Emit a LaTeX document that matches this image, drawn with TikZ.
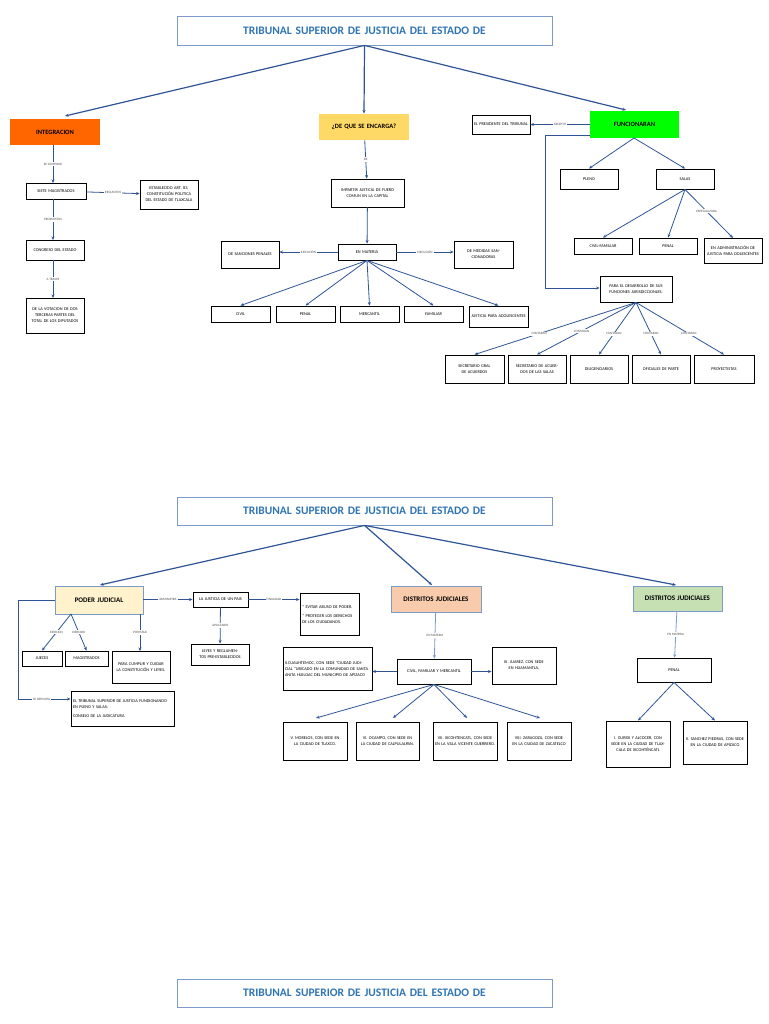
\documentclass[tikz,border=0pt]{standalone}
\usepackage{fontspec}
\setmainfont{Carlito}
\usetikzlibrary{arrows.meta}
\definecolor{ttl}{RGB}{47,117,181}
\definecolor{ln}{RGB}{46,84,150}
\definecolor{lbl}{RGB}{125,155,200}
\definecolor{org}{RGB}{255,102,0}
\definecolor{yel}{RGB}{255,217,102}
\definecolor{grn}{RGB}{0,255,0}
\definecolor{crm}{RGB}{255,242,204}
\definecolor{pch}{RGB}{248,203,173}
\definecolor{lgr}{RGB}{198,224,180}
\tikzset{
 base/.style={draw,line width=0.9pt,fill=white,align=center,inner sep=1pt,font=\fontsize{4.3}{6}\selectfont},
 hdr/.style={draw=none,font=\fontsize{6.5}{8}\selectfont\bfseries},
 hdr2/.style={draw=lbl,line width=0.8pt,font=\fontsize{7}{8}\selectfont\bfseries},
 title/.style={draw=lbl,line width=0.8pt,font=\fontsize{11.5}{13}\selectfont\bfseries,text=ttl},
 con/.style={draw=ln,line width=0.8pt,-{Stealth[length=3.5pt,width=3pt]}},
 lab/.style={fill=white,inner sep=1pt,font=\fontsize{3.3}{4}\selectfont,text=black!70},
}
\newcommand\bx[7]{\node[base,#6,minimum width={#4-#2},minimum height={#5-#3},text width={#4-#2-4}] (#1) at ({(#2+#4)/2},{(#3+#5)/2}) {#7};}
\begin{document}
\begin{tikzpicture}[x=1pt,y=-1pt]
\useasboundingbox (0,0) rectangle (768,1024);
% titles
\bx{t1}{177}{16}{552}{45}{title}{TRIBUNAL SUPERIOR DE JUSTICIA DEL ESTADO DE}
\bx{t2}{177}{497}{552}{525}{title}{TRIBUNAL SUPERIOR DE JUSTICIA DEL ESTADO DE}
\bx{t3}{177}{979}{552}{1007}{title}{TRIBUNAL SUPERIOR DE JUSTICIA DEL ESTADO DE}
% section 1 headers
\bx{int}{10}{119}{100}{145}{hdr,fill=org}{INTEGRACION}
\bx{enc}{319}{114}{409}{140}{hdr,fill=yel}{¿DE QUE SE ENCARGA?}
\bx{fun}{590}{111}{679}{138}{hdr,fill=grn}{FUNCIONARAN}
\draw[con,line width=1.2pt] (t1.south) -- (65,116);
\draw[con,line width=1.2pt] (t1.south) -- (enc.north);
\draw[con,line width=1.2pt] (t1.south) -- (626,110);
% integracion
\bx{siete}{26}{183}{86}{199}{}{SIETE MAGISTRADOS}
\bx{est}{140}{180}{198}{209}{}{ESTABLECIDO ART. 83, CONSTITUCIÓN POLITICA DEL ESTADO DE TLAXCALA}
\bx{cong}{26}{240}{84}{260}{}{CONGRESO DEL ESTADO}
\bx{vot}{26}{298}{84}{333}{}{DE LA VOTACION DE DOS TERCERAS PARTES DEL TOTAL DE LOS DIPUTADOS}
\draw[con] (53,145) -- node[lab]{SE COMPONE} (53,183);
\draw[con] (siete) -- node[lab]{REQUISITOS} (est);
\draw[con] (53,199) -- node[lab]{PROPUESTOS} (53,240);
\draw[con] (53,260) -- node[lab]{A TRAVES} (53,298);
% encarga
\bx{imp}{331}{179}{404}{207}{}{IMPARTIR JUSTICIA DE FUERO COMUN EN LA CAPITAL}
\bx{mat}{338}{244}{396}{260}{}{EN MATERIA}
\bx{sanc}{221}{241}{279}{268}{}{DE SANCIONES PENALES}
\bx{med}{454}{241}{513}{268}{}{DE MEDIDAS SANCIONADORAS}
\draw[con] (enc) -- node[lab]{DE} (imp);
\draw[con] (imp) -- (mat);
\draw[con] (mat) -- node[lab]{EJECUCIÓN} (sanc.east|-mat);
\draw[con] (mat) -- node[lab]{EJECUCIÓN} (med.west|-mat);
\bx{civ}{211}{306}{270}{322}{}{CIVIL}
\bx{pen}{276}{306}{335}{322}{}{PENAL}
\bx{mer}{340}{306}{399}{322}{}{MERCANTIL}
\bx{fam}{404}{306}{463}{322}{}{FAMILIAR}
\bx{ado}{469}{306}{528}{327}{}{JUSTICIA PARA ADOLESCENTES}
\foreach \n in {civ,pen,mer,fam,ado} \draw[con] (mat.south) -- (\n.north);
% funcionaran
\bx{pres}{472}{115}{530}{134}{}{EL PRESIDENTE DEL TRIBUNAL}
\draw[con] (fun.west|-pres) -- node[lab]{EXCEPTO} (pres);
\bx{ple}{560}{169}{618}{189}{}{PLENO}
\bx{sal}{656}{169}{714}{189}{}{SALAS}
\draw[con] (634,138) -- (ple.north);
\draw[con] (634,138) -- (sal.north);
\bx{cf}{574}{238}{632}{254}{}{CIVIL-FAMILIAR}
\bx{spen}{639}{238}{697}{254}{}{PENAL}
\bx{sado}{704}{238}{762}{263}{}{EN ADMINISTRACIÓN DE JUSTICIA PARA DOLESCENTES}
\draw[con] (sal.south) -- (cf.north);
\draw[con] (sal.south) -- (spen.north);
\draw[con] (sal.south) -- node[lab,pos=0.45]{ESPECIALIZADA} (733,238);
\bx{des}{600}{276}{672}{302}{}{PARA EL DESARROLLO DE SUS FUNCIONES JURISDICCIONLES.}
\draw[con] (590,135) -- (545,135) -- (545,288) -- (des.west|-545,288);
\bx{sg}{445}{355}{504}{383}{}{SECRETARIO GRAL DE ACUERDOS}
\bx{sa}{508}{355}{566}{383}{}{SECRETARIO DE ACUERDOS DE LAS SALAS}
\bx{dil}{570}{355}{628}{383}{}{DILIGENCIARIOS}
\bx{ofi}{632}{355}{690}{383}{}{OFICIALES DE PARTE}
\bx{pro}{694}{355}{754}{383}{}{PROYECTISTAS}
\foreach \n/\p in {sg/0.6,sa/0.55,dil/0.6,ofi/0.6,pro/0.6} \draw[con] (des.south) -- node[lab,pos=\p]{CONTARAN} (\n.north);
% section 2 headers
\bx{pj}{55}{586}{143}{614}{hdr2,fill=crm}{PODER JUDICIAL}
\bx{dj1}{391}{586}{481}{612}{hdr2,fill=pch}{DISTRITOS JUDICIALES}
\bx{dj2}{633}{586}{722}{611}{hdr2,fill=lgr}{DISTRITOS JUDICIALES}
\draw[con,line width=1.2pt] (t2.south) -- (100,585);
\draw[con,line width=1.2pt] (t2.south) -- (432,585);
\draw[con,line width=1.2pt] (t2.south) -- (676,585);
% poder judicial
\bx{jus}{193}{592}{248}{607}{}{LA JUSTICIA DE UN PAIS}
\bx{evi}{300}{593}{359}{635}{align=left}{* EVITAR ABUSO DE PODER.\\[3pt]* PROTEGER LOS DERECHOS DE LOS CIUDADANOS.}
\bx{ley}{191}{644}{249}{665}{}{LEYES Y REGLAMENTOS PRE-ESTABLECIDOS}
\draw[con] (pj.east|-jus) -- node[lab]{ADMINISTRA} (jus);
\draw[con] (jus) -- node[lab]{FINALIDAD} (evi.west|-jus);
\draw[con] (jus) -- node[lab]{APLICANDO} (ley);
\bx{jue}{22}{651}{62}{666}{}{JUECES}
\bx{mag}{65}{651}{108}{666}{}{MAGISTRADOS}
\bx{cum}{112}{651}{170}{683}{}{PARA CUMPLIR Y CUIDAR LA CONSTITUCIÓN Y LEYES.}
\draw[con] (71,614) -- node[lab]{EJERCIDO} (jue.north);
\draw[con] (71,614) -- node[lab]{EJERCIDO} (mag.north);
\draw[con] (140,614) -- node[lab]{POTESTAD} (140,651);
\bx{tsj}{71}{691}{174}{726}{align=left}{EL TRIBUNAL SUPERIOR DE JUSTICIA FUNDIONANDO EN PLENO Y SALAS;\\[3pt]CONSEJO DE LA JUDICATURA}
\draw[con] (pj.west) -- (18,600) -- (18,699) -- node[lab,pos=0.45]{SE DEPOSITA} (tsj.west|-18,699);
% distritos 1
\bx{cfm}{397}{659}{471}{684}{}{CIVIL, FAMILIAR Y MERCANTIL}
\draw[con,draw=lbl] (dj1) -- node[lab]{EN MATERIA} (cfm);
\bx{cua}{283}{647}{372}{690}{align=left}{II.CUAUHTEMOC, CON SEDE "CIUDAD JUDICIAL "UBICADO EN LA COMUNIDAD DE SANTA ANITA HUILOAC DEL MUNICIPIO DE APIZACO}
\bx{jua}{492}{647}{556}{684}{}{III. JUAREZ, CON SEDE EN HUAMANTLA,}
\draw[con] (cfm) -- (cua.east|-cfm);
\draw[con] (cfm) -- (jua.west|-cfm);
\bx{mor}{283}{722}{347}{760}{}{V. MORELOS, CON SEDE EN LA CIUDAD DE TLAXCO.}
\bx{oca}{356}{722}{419}{760}{}{VI. OCAMPO, CON SEDE EN LA CIUDAD DE CALPULALPAN.}
\bx{xic}{433}{722}{497}{760}{}{VII. XICOHTENCATL, CON SEDE EN LA VILLA VICENTE GUERRERO.}
\bx{zar}{507}{722}{571}{760}{}{VIII. ZARAGOZA, CON SEDE EN LA CIUDAD DE ZACATELCO}
\draw[con] (cfm.south) -- (316,718);
\draw[con] (cfm.south) -- (393,718);
\draw[con] (cfm.south) -- (467,718);
\draw[con] (cfm.south) -- (540,718);
% distritos 2
\bx{dpen}{637}{658}{711}{682}{}{PENAL}
\draw[con,draw=lbl] (dj2) -- node[lab]{EN MATERIA} (dpen);
\bx{gur}{606}{721}{670}{767}{}{I. GURIDI Y ALCOCER, CON SEDE EN LA CIUDAD DE TLAXCALA DE XICOHTÉNCATL}
\bx{san}{683}{721}{747}{764}{}{II. SANCHEZ PIEDRAS, CON SEDE EN LA CIUDAD DE APIZACO}
\draw[con] (dpen.south) -- (gur.north);
\draw[con] (dpen.south) -- (san.north);
\end{tikzpicture}
\end{document}
